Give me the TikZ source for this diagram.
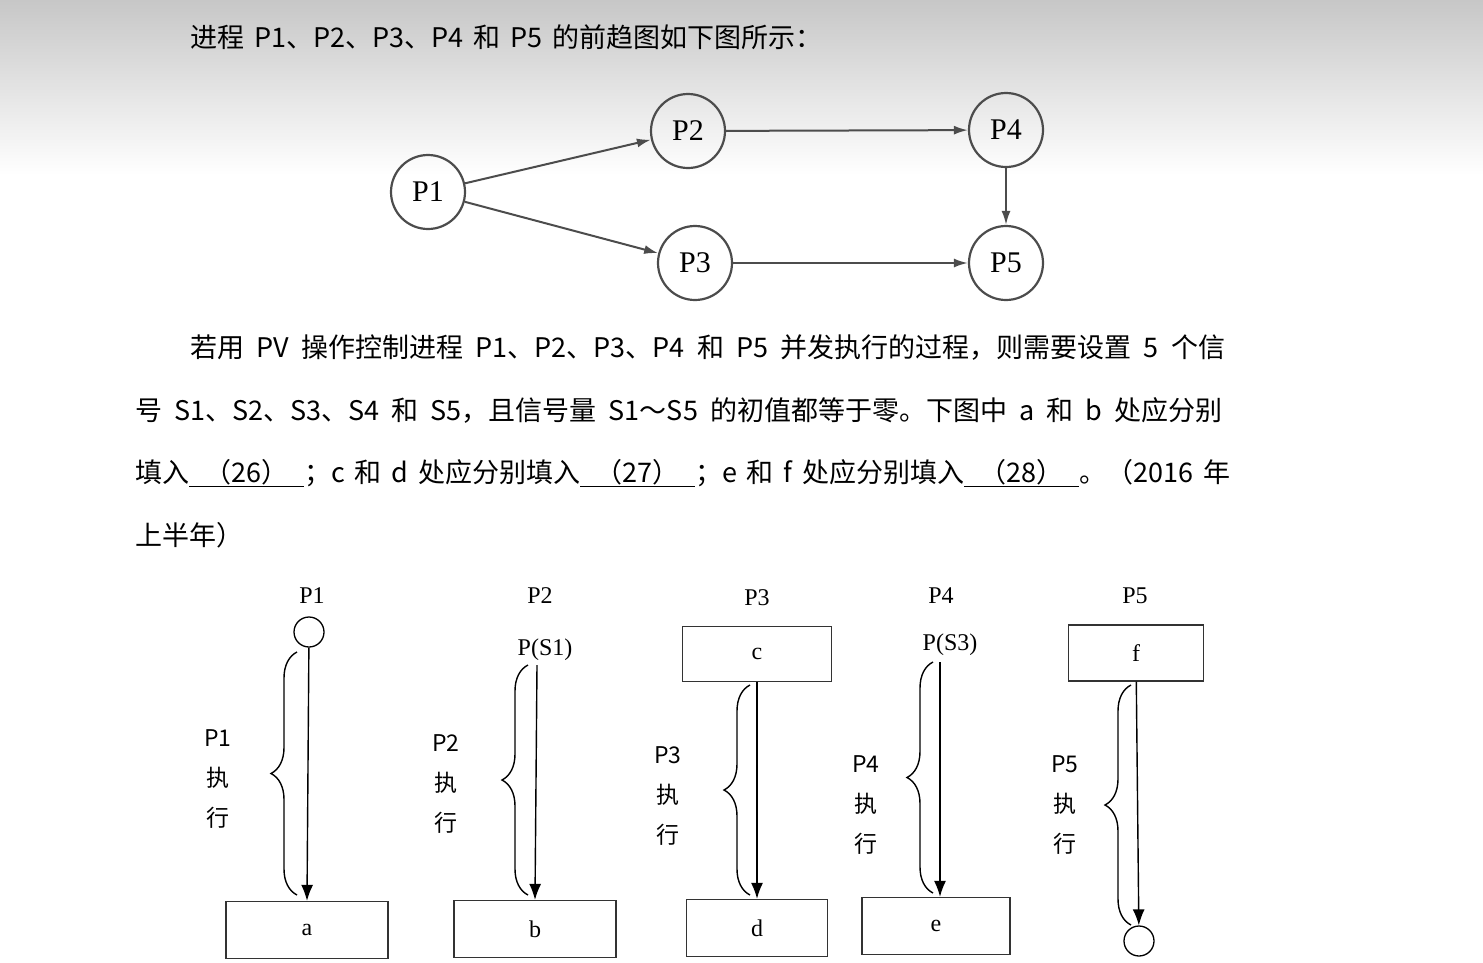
\documentclass[tikz,border=0pt]{standalone}
\usepackage{fontspec}
\setmainfont{Liberation Serif}
\newfontfamily\cjk{Noto Sans CJK SC}
\usetikzlibrary{arrows.meta,decorations.pathreplacing}
\begin{document}
\begin{tikzpicture}[x=1pt,y=-1pt,
  circ/.style={circle,draw=black!70,line width=2.2pt,minimum size=74pt,inner sep=0pt,font=\fontsize{30}{30}\selectfont},
  garr/.style={draw=black!70,line width=2pt,-{Latex[length=14pt,width=9pt]}},
  box/.style={draw=black!80,line width=1.3pt,inner sep=0pt,font=\fontsize{24}{24}\selectfont},
  lab/.style={font=\fontsize{24}{24}\selectfont},
  clab/.style={font=\cjk\fontsize{23}{40}\selectfont,align=center},
  darr/.style={draw=black,line width=1.4pt,-{Latex[length=16pt,width=12pt]}},
  brc/.style={draw=black,line width=1.4pt,decorate,decoration={brace,amplitude=26pt}},
  para/.style={font=\cjk\fontsize{27}{27}\selectfont,anchor=west,inner sep=0pt}]
\useasboundingbox (0,0) rectangle (1483,962);
\shade[top color=black!22,bottom color=white] (0,0) rectangle (1483,175);
% text
\node[para] (t1) at (190,37) {\makebox[632pt][s]{进程 P1、P2、P3、P4 和 P5 的前趋图如下图所示：}};
\node[para] (t2) at (190,348) {\makebox[1035pt][s]{若用 PV 操作控制进程 P1、P2、P3、P4 和 P5 并发执行的过程，则需要设置 5 个信}};
\node[para] (t3) at (135,410) {\makebox[1087pt][s]{号 S1、S2、S3、S4 和 S5，且信号量 S1～S5 的初值都等于零。下图中 a 和 b 处应分别}};
\node[para] (t4) at (135,473) {\makebox[1095pt][s]{填入\underline{\makebox[115pt]{（26）}}；c 和 d 处应分别填入\underline{\makebox[115pt]{（27）}}；e 和 f 处应分别填入\underline{\makebox[115pt]{（28）}}。（2016 年}};
\node[para] (t5) at (135,535) {上半年）};
% graph
\node[circ] (p1) at (428,192) {P1};
\node[circ] (p2) at (688,131) {P2};
\node[circ] (p3) at (695,263) {P3};
\node[circ] (p4) at (1006,130) {P4};
\node[circ] (p5) at (1006,263) {P5};
\draw[garr] (p1) -- (p2);
\draw[garr] (p1) -- (p3);
\draw[garr] (p2) -- (p4);
\draw[garr] (p3) -- (p5);
\draw[garr] (p4) -- (p5);
% bottom P1
\node[lab] (l1) at (312,596) {P1};
\node[circle,draw,line width=1.3pt,minimum size=30pt,inner sep=0pt] (c1) at (309,632) {};
\node[box,minimum width=162pt,minimum height=57pt] (a) at (307,930) {a};
\draw[darr] (c1) -- (a.north);
\draw[brc] (297,895) -- (297,652);
\node[clab] (e1) at (218,779) {P1\\执\\行};
% P2
\node[lab] (l2) at (540,596) {P2};
\node[lab] (s1) at (545,650) {P(S1)};
\node[box,minimum width=162pt,minimum height=57pt] (b) at (535,929) {b};
\coordinate (s1b) at (537,665);
\draw[darr] (s1b) -- (b.north);
\draw[brc] (528,895) -- (528,665);
\node[clab] (e2) at (446,784) {P2\\执\\行};
% P3
\node[lab] (l3) at (757,598) {P3};
\node[box,minimum width=149pt,minimum height=55pt] (c) at (757,654) {c};
\node[box,minimum width=141pt,minimum height=57pt] (d) at (757,928) {d};
\draw[darr] (c) -- (d.north);
\draw[brc] (750,895) -- (750,685);
\node[clab] (e3) at (668,796) {P3\\执\\行};
% P4
\node[lab] (l4) at (941,596) {P4};
\node[lab] (s3) at (950,645) {P(S3)};
\node[box,minimum width=148pt,minimum height=57pt] (e) at (936,926) {e};
\coordinate (s3b) at (940,662);
\draw[darr] (s3b) -- (e.north -| s3b);
\draw[brc] (933,893) -- (933,662);
\node[clab] (e4) at (866,805) {P4\\执\\行};
% P5
\node[lab] (l5) at (1135,596) {P5};
\node[box,minimum width=135pt,minimum height=56pt] (f) at (1136,653) {f};
\node[circle,draw,line width=1.3pt,minimum size=30pt,inner sep=0pt] (c5) at (1139,941) {};
\draw[darr] (f) -- (c5);
\draw[brc] (1131,925) -- (1131,685);
\node[clab] (e5) at (1065,805) {P5\\执\\行};
\end{tikzpicture}
\end{document}
